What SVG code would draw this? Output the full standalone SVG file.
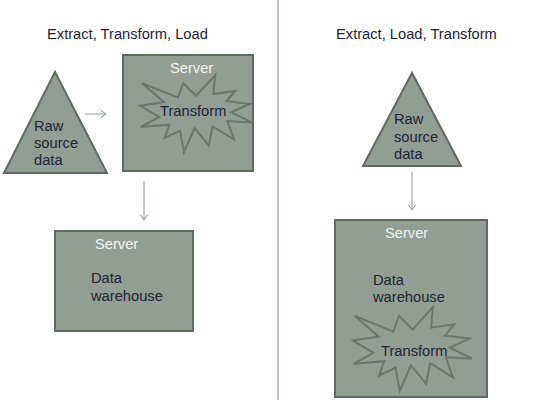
<svg xmlns="http://www.w3.org/2000/svg" width="533" height="400" viewBox="0 0 533 400">
<style>
text{font-family:"Liberation Sans",Arial,sans-serif;font-size:14.7px;fill:#232336}
.wt{fill:#f4f4f4}
.box{fill:#929e93;stroke:#5f6a60;stroke-width:2}
.tri{fill:#929e93;stroke:#5f6a60;stroke-width:2;stroke-linejoin:miter}
.star{fill:none;stroke:#6b766c;stroke-width:2;stroke-linejoin:miter}
.arr{stroke:#8a9a97;stroke-width:1;fill:none;marker-end:url(#ah)}
</style>
<defs>
<marker id="ah" markerWidth="10" markerHeight="10" refX="7" refY="4" orient="auto" markerUnits="userSpaceOnUse">
<polyline points="2,0.5 7,4 2,7.5" fill="none" stroke="#8a9a97" stroke-width="1"/>
</marker>
</defs>
<rect width="533" height="400" fill="#ffffff"/>
<line x1="278" y1="0" x2="278" y2="400" stroke="#7f8e8a" stroke-width="1"/>
<text x="47" y="39">Extract, Transform, Load</text>
<text x="336" y="39">Extract, Load, Transform</text>
<g id="connectors">
<line class="arr" x1="85" y1="114" x2="106" y2="114"/>
<line class="arr" x1="144" y1="181" x2="144" y2="220"/>
<line class="arr" x1="412" y1="172" x2="412" y2="210"/>
</g>
<g id="raw-left">
<polygon class="tri" points="55,72 4,173 107,173"/>
<text x="34" y="131">Raw</text>
<text x="34" y="148">source</text>
<text x="34" y="165">data</text>
</g>
<g id="server-left">
<rect class="box" x="123" y="55" width="130" height="116"/>
<text class="wt" x="170" y="73">Server</text>
<polygon class="star" points="196,95.7 215.3,75 213.4,94 235.3,90.9 226.6,101.1 249.4,104 231.3,112.3 252,122.4 227.3,121.1 234.1,139.5 212.7,126.5 208.7,145.4 194.6,128.2 184,152 180,130.7 164.7,137.8 169.4,124.7 140.7,127 159.3,117 140,105.7 164,102.2 141.9,83.2 177.9,97.5 183.3,83.2"/>
<text x="160" y="116">Transform</text>
</g>
<g id="warehouse-left">
<rect class="box" x="55" y="231" width="138" height="100"/>
<text class="wt" x="95" y="249">Server</text>
<text x="91" y="283">Data</text>
<text x="91" y="301">warehouse</text>
</g>
<g id="raw-right">
<polygon class="tri" points="412,73 363,166 461,166"/>
<text x="394" y="124">Raw</text>
<text x="394" y="142">source</text>
<text x="394" y="159">data</text>
</g>
<g id="server-right">
<rect class="box" x="335" y="220" width="152" height="177"/>
<text class="wt" x="385" y="238">Server</text>
<text x="373" y="285">Data</text>
<text x="373" y="302">warehouse</text>
<polygon class="star" points="412.5,329.6 433,307 431,327.7 454.3,324.3 445,335.4 469.2,338.6 450,347.7 472,358.7 445.8,357.3 453,377.4 430.2,363.2 426,383.8 411,365.1 399.7,391 395.5,367.8 379.2,375.5 384.2,361.2 353.7,363.7 373.5,352.8 353,340.5 378.5,336.6 355,315.9 393.3,331.6 399,315.9"/>
<text x="381" y="356">Transform</text>
</g>
</svg>
